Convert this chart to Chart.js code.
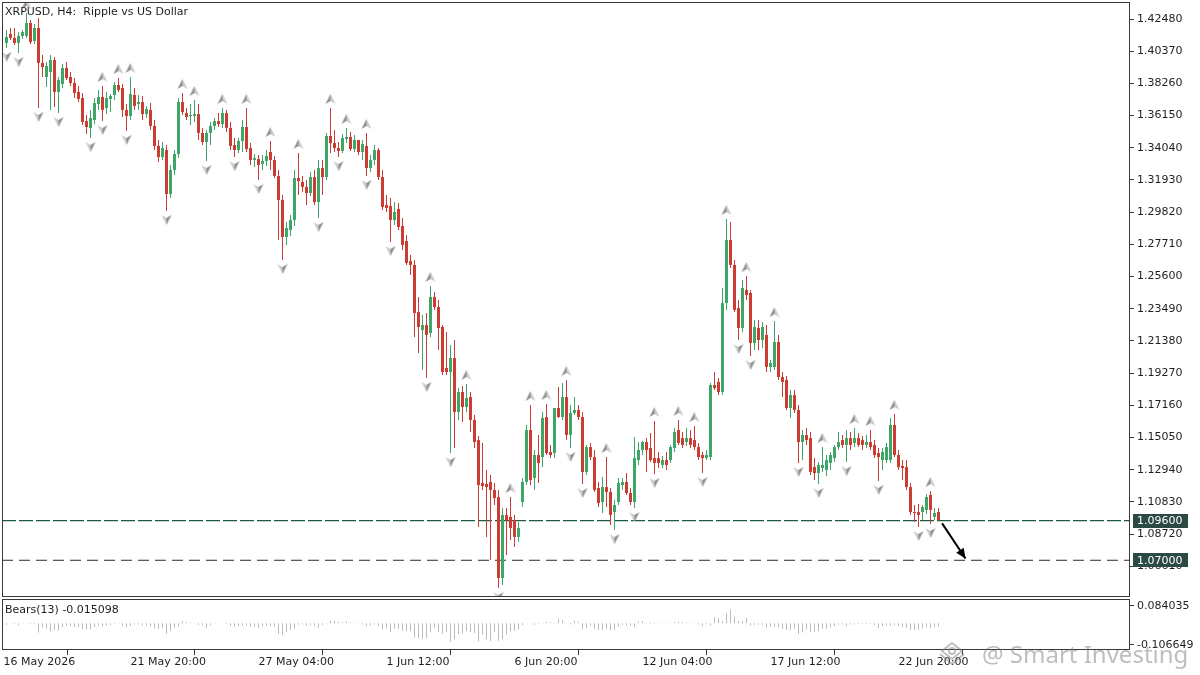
<!DOCTYPE html>
<html>
<head>
<meta charset="utf-8">
<script src="https://cdn.jsdelivr.net/npm/chart.js@4.4.1/dist/chart.umd.min.js"></script>
<style>
    body { margin: 0; background: #fff; width: 1200px; height: 675px; overflow: hidden; position: relative; }
    #main { position: absolute; left: 0; top: 0; }
    #ind { position: absolute; left: 0; top: 598px; }
    #wm { position: absolute; left: 932px; top: 637px; display: flex; align-items: center; gap: 10px;
          color: rgba(125, 125, 125, 0.5); font: 24px 'Noto Sans', sans-serif; white-space: nowrap; }
</style>
</head>
<body>
<canvas id="main" width="1200" height="598"></canvas>
<canvas id="ind" width="1200" height="77"></canvas>
<div id="wm">
    <svg width="40" height="26" viewBox="0 0 40 26" fill="none" stroke="rgba(125,125,125,0.5)" stroke-width="2">
        <path d="M20 2 L30 10 L20 18 L10 10 Z"/>
        <path d="M8 13 L20 23 L32 13"/>
        <circle cx="20" cy="10" r="3"/>
    </svg>
    <span>@ Smart Investing</span>
</div>
<script>
// XRPUSD H4 candles, 16 May 2026 16:00 onwards (one value per bar)
const opens = [
    1.4091, 1.4150, 1.4124, 1.4091, 1.4137, 1.4137, 1.4222, 1.4104, 1.4189, 1.3960,
    1.3868, 1.3901, 1.3979, 1.3770, 1.3822, 1.3927, 1.3868, 1.3829, 1.3770, 1.3730,
    1.3579, 1.3534, 1.3586, 1.3691, 1.3737, 1.3665, 1.3724, 1.3750, 1.3815, 1.3796,
    1.3652, 1.3612, 1.3750, 1.3691, 1.3704, 1.3625, 1.3652, 1.3547, 1.3416, 1.3343,
    1.3389, 1.3101, 1.3258, 1.3363, 1.3704, 1.3632, 1.3612, 1.3612, 1.3625, 1.3501,
    1.3442, 1.3501, 1.3547, 1.3579, 1.3560, 1.3632, 1.3534, 1.3422, 1.3389, 1.3448,
    1.3540, 1.3402, 1.3324, 1.3330, 1.3298, 1.3317, 1.3376, 1.3324, 1.3219, 1.3062,
    1.2819, 1.2865, 1.2931, 1.3206, 1.3180, 1.3147, 1.3107, 1.3212, 1.3048, 1.3271,
    1.3212, 1.3481, 1.3435, 1.3402, 1.3383, 1.3461, 1.3475, 1.3396, 1.3455, 1.3376,
    1.3416, 1.3271, 1.3324, 1.3389, 1.3212, 1.3029, 1.3022, 1.2931, 1.3003, 1.2891,
    1.2793, 1.2662, 1.2636, 1.2327, 1.2209, 1.2242, 1.2190, 1.2426, 1.2360, 1.2229,
    1.1961, 1.1934, 1.2026, 1.1672, 1.1803, 1.1705, 1.1770, 1.1620, 1.1488, 1.1207,
    1.1200, 1.1213, 1.1161, 1.1115, 1.0584, 1.0997, 1.0984, 1.0964, 1.0853, 1.1082,
    1.1213, 1.1554, 1.1239, 1.1390, 1.1377, 1.1639, 1.1410, 1.1403, 1.1698, 1.1639,
    1.1770, 1.1521, 1.1666, 1.1685, 1.1639, 1.1279, 1.1442, 1.1377, 1.1174, 1.1082,
    1.1180, 1.1148, 1.1016, 1.1082, 1.1193, 1.1213, 1.1141, 1.1082, 1.1357, 1.1423,
    1.1475, 1.1436, 1.1370, 1.1370, 1.1325, 1.1357, 1.1357, 1.1436, 1.1554, 1.1501,
    1.1475, 1.1501, 1.1488, 1.1442, 1.1390, 1.1370, 1.1377, 1.1849, 1.1869, 1.1803,
    1.2386, 1.2799, 1.2636, 1.2354, 1.2223, 1.2472, 1.2452, 1.2124, 1.2223, 1.2144,
    1.2177, 1.1967, 1.1967, 1.2131, 1.1901, 1.1882, 1.1698, 1.1783, 1.1685, 1.1475,
    1.1521, 1.1501, 1.1311, 1.1272, 1.1305, 1.1292, 1.1338, 1.1370, 1.1442, 1.1488,
    1.1456, 1.1501, 1.1469, 1.1501, 1.1488, 1.1456, 1.1475, 1.1456, 1.1403, 1.1357,
    1.1357, 1.1357, 1.1587, 1.1390, 1.1318, 1.1311, 1.1180, 1.1016, 1.1016, 1.1016,
    1.1030, 1.1128, 1.0984, 1.1016
]
const highs = [
    1.4176, 1.4189, 1.4189, 1.4163, 1.4176, 1.4287, 1.4242, 1.4215, 1.4255, 1.4012,
    1.3966, 1.4012, 1.3999, 1.3868, 1.3953, 1.3966, 1.3901, 1.3861, 1.3809, 1.3763,
    1.3619, 1.3652, 1.3730, 1.3783, 1.3809, 1.3770, 1.3756, 1.3835, 1.3861, 1.3822,
    1.3691, 1.3868, 1.3796, 1.3750, 1.3743, 1.3678, 1.3697, 1.3586, 1.3455, 1.3442,
    1.3422, 1.3291, 1.3389, 1.3730, 1.3763, 1.3665, 1.3691, 1.3717, 1.3691, 1.3534,
    1.3520, 1.3573, 1.3599, 1.3632, 1.3665, 1.3652, 1.3573, 1.3468, 1.3468, 1.3586,
    1.3665, 1.3435, 1.3363, 1.3357, 1.3357, 1.3389, 1.3448, 1.3350, 1.3258, 1.3094,
    1.2917, 1.2963, 1.3258, 1.3370, 1.3219, 1.3193, 1.3245, 1.3258, 1.3324, 1.3324,
    1.3501, 1.3665, 1.3520, 1.3442, 1.3494, 1.3534, 1.3507, 1.3488, 1.3455, 1.3455,
    1.3501, 1.3357, 1.3422, 1.3402, 1.3258, 1.3094, 1.3075, 1.3048, 1.3042, 1.2944,
    1.2832, 1.2701, 1.2668, 1.2426, 1.2308, 1.2321, 1.2498, 1.2459, 1.2406, 1.2242,
    1.2196, 1.2111, 1.2144, 1.1829, 1.1842, 1.1856, 1.1803, 1.1652, 1.1515, 1.1469,
    1.1292, 1.1259, 1.1207, 1.1161, 1.1043, 1.1043, 1.1115, 1.0997, 1.0951, 1.1239,
    1.1587, 1.1718, 1.1423, 1.1521, 1.1672, 1.1724, 1.1456, 1.1685, 1.1836, 1.1862,
    1.1882, 1.1718, 1.1770, 1.1718, 1.1672, 1.1456, 1.1469, 1.1423, 1.1213, 1.1246,
    1.1377, 1.1174, 1.1095, 1.1239, 1.1239, 1.1272, 1.1174, 1.1508, 1.1475, 1.1482,
    1.1501, 1.1534, 1.1613, 1.1410, 1.1384, 1.1410, 1.1456, 1.1567, 1.1620, 1.1541,
    1.1567, 1.1554, 1.1580, 1.1469, 1.1410, 1.1423, 1.1862, 1.1934, 1.1895, 1.2485,
    1.2937, 1.2917, 1.2668, 1.2406, 1.2537, 1.2563, 1.2472, 1.2275, 1.2275, 1.2262,
    1.2242, 1.2013, 1.2268, 1.2177, 1.1934, 1.1908, 1.1816, 1.1816, 1.1718, 1.1554,
    1.1567, 1.1541, 1.1370, 1.1344, 1.1442, 1.1390, 1.1410, 1.1456, 1.1541, 1.1521,
    1.1554, 1.1541, 1.1567, 1.1534, 1.1515, 1.1521, 1.1554, 1.1488, 1.1436, 1.1436,
    1.1469, 1.1633, 1.1659, 1.1423, 1.1357, 1.1357, 1.1207, 1.1062, 1.1069, 1.1062,
    1.1134, 1.1154, 1.1043, 1.1043
]
const lows = [
    1.4058, 1.4110, 1.4078, 1.4025, 1.4117, 1.4124, 1.4084, 1.4084, 1.3665, 1.3868,
    1.3802, 1.3652, 1.3671, 1.3632, 1.3796, 1.3848, 1.3809, 1.3730, 1.3704, 1.3553,
    1.3494, 1.3468, 1.3560, 1.3652, 1.3579, 1.3625, 1.3638, 1.3717, 1.3770, 1.3606,
    1.3514, 1.3586, 1.3652, 1.3652, 1.3586, 1.3599, 1.3520, 1.3389, 1.3311, 1.3324,
    1.2990, 1.3075, 1.3225, 1.3337, 1.3619, 1.3586, 1.3553, 1.3573, 1.3455, 1.3422,
    1.3317, 1.3422, 1.3520, 1.3540, 1.3534, 1.3507, 1.3389, 1.3343, 1.3370, 1.3376,
    1.3376, 1.3291, 1.3278, 1.3193, 1.3258, 1.3284, 1.3258, 1.3206, 1.2799, 1.2668,
    1.2767, 1.2826, 1.2891, 1.3094, 1.3114, 1.3029, 1.3088, 1.3029, 1.2944, 1.3094,
    1.3193, 1.3370, 1.3376, 1.3343, 1.3370, 1.3435, 1.3383, 1.3376, 1.3357, 1.3324,
    1.3219, 1.3245, 1.3291, 1.3193, 1.2996, 1.2983, 1.2786, 1.2898, 1.2865, 1.2734,
    1.2636, 1.2570, 1.2164, 1.2059, 1.1947, 1.1895, 1.2164, 1.2341, 1.2078, 1.1914,
    1.1914, 1.1403, 1.1436, 1.1620, 1.1606, 1.1672, 1.1541, 1.1436, 1.0918, 1.1161,
    1.0853, 1.0702, 1.1062, 1.0518, 1.0538, 1.0735, 1.0833, 1.0787, 1.0820, 1.1049,
    1.1193, 1.1193, 1.1161, 1.1207, 1.1311, 1.1390, 1.1370, 1.1370, 1.1633, 1.1620,
    1.1488, 1.1436, 1.1652, 1.1620, 1.1200, 1.1259, 1.1357, 1.1148, 1.1049, 1.1010,
    1.1049, 1.0931, 1.0898, 1.1062, 1.1161, 1.1128, 1.1062, 1.1043, 1.1325, 1.1390,
    1.1279, 1.1344, 1.1266, 1.1305, 1.1305, 1.1292, 1.1338, 1.1410, 1.1456, 1.1436,
    1.1449, 1.1436, 1.1423, 1.1357, 1.1272, 1.1357, 1.1357, 1.1816, 1.1783, 1.1783,
    1.2341, 1.2616, 1.2327, 1.2144, 1.2196, 1.2406, 1.2039, 1.2078, 1.2078, 1.2092,
    1.1934, 1.1934, 1.1947, 1.1882, 1.1770, 1.1685, 1.1633, 1.1666, 1.1338, 1.1357,
    1.1456, 1.1259, 1.1226, 1.1200, 1.1279, 1.1253, 1.1292, 1.1344, 1.1423, 1.1436,
    1.1344, 1.1423, 1.1442, 1.1442, 1.1423, 1.1436, 1.1423, 1.1370, 1.1220, 1.1292,
    1.1338, 1.1338, 1.1377, 1.1292, 1.1226, 1.1161, 1.0997, 1.0951, 1.0918, 1.0964,
    1.1003, 1.0938, 1.0964, 1.0957
]
const closes = [
    1.4130, 1.4124, 1.4091, 1.4137, 1.4163, 1.4222, 1.4097, 1.4189, 1.3960, 1.3933,
    1.3940, 1.3979, 1.3770, 1.3848, 1.3927, 1.3861, 1.3829, 1.3763, 1.3724, 1.3573,
    1.3540, 1.3599, 1.3697, 1.3737, 1.3652, 1.3730, 1.3743, 1.3815, 1.3783, 1.3652,
    1.3612, 1.3756, 1.3678, 1.3704, 1.3625, 1.3658, 1.3547, 1.3416, 1.3343, 1.3402,
    1.3101, 1.3258, 1.3363, 1.3704, 1.3638, 1.3606, 1.3619, 1.3625, 1.3501, 1.3442,
    1.3501, 1.3547, 1.3579, 1.3560, 1.3632, 1.3534, 1.3416, 1.3389, 1.3448, 1.3540,
    1.3396, 1.3324, 1.3337, 1.3291, 1.3317, 1.3350, 1.3324, 1.3219, 1.3062, 1.2819,
    1.2878, 1.2931, 1.3206, 1.3186, 1.3147, 1.3107, 1.3212, 1.3048, 1.3271, 1.3212,
    1.3481, 1.3435, 1.3402, 1.3383, 1.3468, 1.3475, 1.3396, 1.3455, 1.3376, 1.3429,
    1.3271, 1.3324, 1.3389, 1.3212, 1.3016, 1.3009, 1.2931, 1.2983, 1.2885, 1.2767,
    1.2649, 1.2636, 1.2321, 1.2229, 1.2242, 1.2177, 1.2426, 1.2360, 1.2223, 1.1934,
    1.1934, 1.2026, 1.1672, 1.1803, 1.1705, 1.1764, 1.1620, 1.1475, 1.1193, 1.1187,
    1.1180, 1.1161, 1.1108, 1.0584, 1.0997, 1.0964, 1.0912, 1.0853, 1.0912, 1.1213,
    1.1554, 1.1226, 1.1390, 1.1338, 1.1633, 1.1403, 1.1390, 1.1698, 1.1639, 1.1770,
    1.1521, 1.1666, 1.1685, 1.1639, 1.1279, 1.1442, 1.1377, 1.1161, 1.1075, 1.1180,
    1.1148, 1.0997, 1.1062, 1.1207, 1.1213, 1.1141, 1.1082, 1.1370, 1.1423, 1.1475,
    1.1423, 1.1357, 1.1338, 1.1338, 1.1357, 1.1325, 1.1442, 1.1541, 1.1469, 1.1456,
    1.1501, 1.1456, 1.1442, 1.1377, 1.1370, 1.1390, 1.1849, 1.1829, 1.1803, 1.2386,
    1.2799, 1.2636, 1.2341, 1.2223, 1.2485, 1.2439, 1.2124, 1.2229, 1.2144, 1.2229,
    1.1967, 1.1993, 1.2131, 1.1901, 1.1869, 1.1698, 1.1783, 1.1685, 1.1475, 1.1521,
    1.1488, 1.1279, 1.1272, 1.1325, 1.1325, 1.1357, 1.1390, 1.1442, 1.1475, 1.1456,
    1.1501, 1.1456, 1.1501, 1.1456, 1.1456, 1.1475, 1.1442, 1.1390, 1.1377, 1.1410,
    1.1442, 1.1587, 1.1390, 1.1311, 1.1305, 1.1180, 1.1016, 1.1010, 1.0997, 1.1049,
    1.1115, 1.1030, 1.1010, 1.0964
]

// bar indexes that carry a Bill Williams fractal arrow
const upFractals = [5, 24, 28, 31, 44, 47, 54, 60, 66, 73, 81, 85, 90, 106, 115, 126, 131, 135, 140, 150,
    162, 168, 172, 180, 185, 192, 204, 212, 216, 222, 231]
const downFractals = [0, 3, 8, 13, 21, 24, 30, 40, 50, 57, 63, 69, 78, 83, 90, 96, 105, 111, 123, 141, 144,
    152, 157, 162, 174, 183, 186, 198, 203, 210, 218, 228, 231]

const priceTicks = [1.4248, 1.4037, 1.3826, 1.3615, 1.3404, 1.3193, 1.2982, 1.2771, 1.2560, 1.2349,
    1.2138, 1.1927, 1.1716, 1.1505, 1.1294, 1.1083, 1.0872, 1.0661]
const levelValues = [1.0960, 1.0700]
const arrowFrom = [233.9, 1.0942]
const arrowTo = [239.75, 1.0712]

const bearsTicks = [0.084035, -0.106649]
const xTickPositions = [-0.75, 31, 63, 95, 127, 159, 191, 223]
const xTickLabels = ['16 May 2026', '21 May 20:00', '27 May 04:00', '1 Jun 12:00', '6 Jun 20:00',
    '12 Jun 04:00', '17 Jun 12:00', '22 Jun 20:00']

const xMin = -1.125
const xMax = xMin + 282
const priceMin = 1.04593
const priceMax = 1.43595
const bearsMin = -0.1311
const bearsMax = 0.11826

const GREEN = '#3fa66a'
const RED = '#cc3c33'
const AXIS = '#3a3a3a'
const TEXT = '#1e1e1e'
const FONT = { family: 'DejaVu Sans', size: 11 }

const candleColors = closes.map((c, i) => c >= opens[i] ? GREEN : RED)

// Bears Power(13) = Low - EMA(Close, 13)
const bears = []
let ema = closes[0]
closes.forEach((c, i) => {
    ema = i === 0 ? c : ema + (2 / 14) * (c - ema)
    bears.push(lows[i] - ema)
})

const makeArrow = (up) => {
    const c = document.createElement('canvas')
    c.width = 12
    c.height = 36
    const g = c.getContext('2d')
    g.translate(6, up ? 9 : 27)
    if (!up) g.rotate(Math.PI)
    g.beginPath()
    g.moveTo(0, -5); g.lineTo(0, 2); g.lineTo(-5, 5); g.closePath()
    g.fillStyle = '#8e8e8e'
    g.fill()
    g.beginPath()
    g.moveTo(0, -5); g.lineTo(5, 5); g.lineTo(0, 2); g.closePath()
    g.fillStyle = '#c9c9c9'
    g.fill()
    return c
}

const framePlugin = {
    id: 'frame',
    afterDraw(chart) {
        const { ctx, chartArea: a } = chart
        ctx.save()
        ctx.strokeStyle = AXIS
        ctx.lineWidth = 1
        ctx.strokeRect(a.left + 0.5, a.top + 0.5, a.right - a.left - 1, a.bottom - a.top - 1)
        ctx.restore()
    }
}

const mainLabels = {
    id: 'mainLabels',
    afterDraw(chart) {
        const { ctx, chartArea: a } = chart
        ctx.save()
        ctx.font = '11px "DejaVu Sans"'
        ctx.fillStyle = TEXT
        ctx.textBaseline = 'middle'
        ctx.fillText('XRPUSD, H4:  Ripple vs US Dollar', 5, 12)

        // arrow head
        const meta = chart.getDatasetMeta(chart.data.datasets.findIndex(d => d.id === 'arrow'))
        const p0 = meta.data[0]
        const p1 = meta.data[1]
        const ang = Math.atan2(p1.y - p0.y, p1.x - p0.x)
        ctx.fillStyle = '#000'
        ctx.beginPath()
        ctx.moveTo(p1.x, p1.y)
        ctx.lineTo(p1.x - 10 * Math.cos(ang) + 4.5 * Math.sin(ang), p1.y - 10 * Math.sin(ang) - 4.5 * Math.cos(ang))
        ctx.lineTo(p1.x - 10 * Math.cos(ang) - 4.5 * Math.sin(ang), p1.y - 10 * Math.sin(ang) + 4.5 * Math.cos(ang))
        ctx.closePath()
        ctx.fill()

        // price boxes on the axis
        for (const v of levelValues) {
            const y = chart.scales.y.getPixelForValue(v)
            ctx.fillStyle = '#2c4a45'
            ctx.fillRect(a.right + 3, Math.round(y) - 7, 55, 14)
            ctx.fillStyle = '#ffffff'
            ctx.fillText(v.toFixed(5), a.right + 7, y + 0.5)
        }
        ctx.restore()
    }
}

const indLabels = {
    id: 'indLabels',
    afterDraw(chart) {
        const { ctx } = chart
        ctx.save()
        ctx.font = '11px "DejaVu Sans"'
        ctx.fillStyle = TEXT
        ctx.textBaseline = 'middle'
        ctx.fillText('Bears(13) -0.015098', 5, 12)
        ctx.restore()
    }
}

new Chart(document.getElementById('main'), {
    type: 'bar',
    data: {
        datasets: [{
            id: 'arrow',
            type: 'line',
            data: [{ x: arrowFrom[0], y: arrowFrom[1] }, { x: arrowTo[0], y: arrowTo[1] }],
            borderColor: '#000',
            borderWidth: 2,
            pointRadius: 0,
            order: 1
        }, {
            type: 'scatter',
            data: upFractals.map(i => ({ x: i, y: highs[i] })),
            pointStyle: makeArrow(true),
            pointRadius: 5,
            order: 2
        }, {
            type: 'scatter',
            data: downFractals.map(i => ({ x: i, y: lows[i] })),
            pointStyle: makeArrow(false),
            pointRadius: 5,
            order: 2
        }, {
            data: opens.map((o, i) => ({ x: i, y: [o, closes[i]] })),
            backgroundColor: candleColors,
            barThickness: 3,
            minBarLength: 1,
            grouped: false,
            inflateAmount: 0,
            order: 3
        }, {
            data: lows.map((l, i) => ({ x: i, y: [l, highs[i]] })),
            backgroundColor: candleColors,
            barThickness: 1,
            grouped: false,
            inflateAmount: 0,
            order: 4
        }, {
            type: 'line',
            data: [{ x: xMin, y: levelValues[0] }, { x: xMax, y: levelValues[0] }],
            borderColor: '#1d5a45',
            borderWidth: 1.3,
            borderDash: [14, 3],
            pointRadius: 0,
            order: 5
        }, {
            type: 'line',
            data: [{ x: xMin, y: levelValues[1] }, { x: xMax, y: levelValues[1] }],
            borderColor: '#2a2a2a',
            borderWidth: 1,
            borderDash: [11, 6],
            pointRadius: 0,
            order: 5
        }]
    },
    options: {
        responsive: false,
        animation: false,
        events: [],
        layout: { autoPadding: false, padding: { top: 2, left: 2, right: 0, bottom: 1 } },
        plugins: { legend: { display: false }, tooltip: { enabled: false } },
        scales: {
            x: { type: 'linear', min: xMin, max: xMax, offset: false, display: false },
            y: {
                position: 'right',
                min: priceMin,
                max: priceMax,
                beginAtZero: false,
                afterBuildTicks: (s) => { s.ticks = priceTicks.map(v => ({ value: v })) },
                afterFit: (s) => { s.width = 70; s.paddingTop = 0; s.paddingBottom = 0 },
                ticks: { callback: (v) => v.toFixed(5), font: FONT, color: TEXT, padding: 3, autoSkip: false },
                grid: { drawOnChartArea: false, drawTicks: true, tickLength: 4, color: AXIS },
                border: { display: false }
            }
        }
    },
    plugins: [framePlugin, mainLabels]
})

new Chart(document.getElementById('ind'), {
    type: 'bar',
    data: {
        datasets: [{
            data: bears.map((v, i) => ({ x: i, y: v })),
            backgroundColor: '#bcbcbc',
            barThickness: 1,
            grouped: false,
            inflateAmount: 0
        }]
    },
    options: {
        responsive: false,
        animation: false,
        events: [],
        layout: { autoPadding: false, padding: { top: 1, left: 2, right: 0, bottom: 0 } },
        plugins: { legend: { display: false }, tooltip: { enabled: false } },
        scales: {
            x: {
                type: 'linear',
                min: xMin,
                max: xMax,
                offset: false,
                afterBuildTicks: (s) => { s.ticks = xTickPositions.map(v => ({ value: v })) },
                afterFit: (s) => { s.height = 25; s.paddingLeft = 0; s.paddingRight = 0 },
                ticks: { callback: (v, i) => xTickLabels[i], align: 'start', maxRotation: 0, autoSkip: false,
                    padding: 1, font: FONT, color: TEXT },
                grid: { drawOnChartArea: false, tickLength: 5, color: AXIS },
                border: { display: false }
            },
            y: {
                position: 'right',
                min: bearsMin,
                max: bearsMax,
                beginAtZero: false,
                afterBuildTicks: (s) => { s.ticks = bearsTicks.map(v => ({ value: v })) },
                afterFit: (s) => { s.width = 70; s.paddingTop = 0; s.paddingBottom = 0 },
                ticks: { callback: (v) => v.toFixed(6), font: FONT, color: TEXT, padding: 3, autoSkip: false },
                grid: { drawOnChartArea: false, tickLength: 4, color: AXIS },
                border: { display: false }
            }
        }
    },
    plugins: [framePlugin, indLabels]
})
</script>
</body>
</html>
